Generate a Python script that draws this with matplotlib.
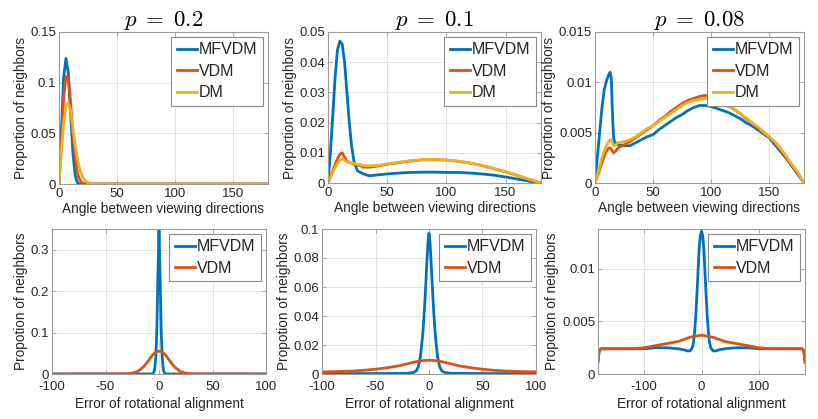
import matplotlib
matplotlib.use("Agg")
import matplotlib.pyplot as plt
import numpy as np

plt.rcParams['font.family'] = ['Liberation Sans', 'DejaVu Sans']
plt.rcParams['mathtext.fontset'] = 'cm'

C_MF = '#0072BD'
C_VDM = '#D95319'
C_DM = '#EDB120'

# ---------- top row: angle between viewing directions ----------
t1_x = [0, 2, 4, 6, 8, 10, 12, 14, 16, 18, 20, 22, 24, 26, 28, 30, 180]
t1_mf = [0, 0.05, 0.105, 0.124, 0.11, 0.07, 0.03, 0.008, 0.001, 0, 0, 0, 0, 0, 0, 0, 0]
t1_vdm = [0, 0.04, 0.085, 0.106, 0.105, 0.08, 0.05, 0.025, 0.01, 0.004, 0.001, 0, 0, 0, 0, 0, 0]
t1_dm = [0, 0.03, 0.06, 0.077, 0.08, 0.072, 0.055, 0.038, 0.024, 0.014, 0.008, 0.004, 0.002, 0.001, 0, 0, 0]

t2_x_mf = [0, 2, 4, 6, 8, 10, 12, 14, 16, 18, 20, 22, 25, 30, 35, 40, 45, 50, 60, 70, 80, 90,
           100, 110, 120, 130, 140, 150, 160, 170, 180]
t2_mf = [0, 0.01, 0.022, 0.035, 0.044, 0.047, 0.046, 0.04, 0.03, 0.02, 0.012, 0.007, 0.004, 0.003,
         0.0024, 0.0026, 0.0028, 0.003, 0.0033, 0.0035, 0.0036, 0.0036, 0.0035, 0.0035, 0.0033,
         0.003, 0.0026, 0.002, 0.0013, 0.0006, 0]
t2_x = [0, 2, 4, 6, 8, 10, 12, 14, 16, 20, 25, 30, 35, 40, 50, 60, 70, 80, 90, 100, 110, 120,
        130, 140, 150, 160, 170, 180]
t2_vdm = [0, 0.002, 0.004, 0.006, 0.008, 0.0095, 0.01, 0.0085, 0.0072, 0.0065, 0.006, 0.0053,
          0.0052, 0.0055, 0.0062, 0.0068, 0.0073, 0.0077, 0.0077, 0.0076, 0.0072, 0.0066, 0.0058,
          0.0048, 0.0037, 0.0025, 0.0012, 0]
t2_dm = [0, 0.0018, 0.0035, 0.005, 0.0065, 0.0075, 0.008, 0.0075, 0.007, 0.0066, 0.0062, 0.0058,
         0.0057, 0.0058, 0.0063, 0.0069, 0.0074, 0.0077, 0.0078, 0.0076, 0.0072, 0.0066, 0.0058,
         0.0048, 0.0037, 0.0025, 0.0012, 0]

t3_x_mf = [0, 2, 4, 6, 8, 10, 12, 13, 14, 15, 16, 17, 20, 25, 30, 35, 40, 45, 50, 55, 60, 65, 70,
           75, 80, 85, 90, 95, 100, 105, 110, 115, 120, 125, 130, 135, 140, 145, 150, 155, 160,
           165, 170, 175, 180]
t3_mf = [0, 0.0025, 0.005, 0.0075, 0.0093, 0.0102, 0.0108, 0.011, 0.0105, 0.007, 0.0045, 0.004,
         0.0038, 0.0037, 0.0037, 0.004, 0.0043, 0.0046, 0.0048, 0.0053, 0.0057, 0.0061, 0.0065,
         0.0068, 0.0072, 0.0075, 0.0077, 0.0077, 0.0076, 0.0074, 0.0072, 0.007, 0.0067, 0.0064,
         0.006, 0.0057, 0.0053, 0.0049, 0.0045, 0.0038, 0.0031, 0.0024, 0.0016, 0.0008, 0]
t3_x = [0, 3, 6, 9, 12, 14, 16, 18, 20, 25, 30, 35, 40, 45, 50, 55, 60, 65, 70, 75, 80, 85, 90,
        95, 100, 105, 110, 115, 120, 125, 130, 135, 140, 145, 150, 155, 160, 165, 170, 175, 180]
t3_vdm = [0, 0.001, 0.002, 0.003, 0.0035, 0.0034, 0.003, 0.0032, 0.0035, 0.0038, 0.0041, 0.0045,
          0.0049, 0.0053, 0.0057, 0.0062, 0.0066, 0.0071, 0.0075, 0.0079, 0.0082, 0.0084, 0.0086,
          0.0087, 0.0085, 0.0083, 0.008, 0.0077, 0.0073, 0.0069, 0.0064, 0.006, 0.0055, 0.005,
          0.0046, 0.004, 0.0033, 0.0025, 0.0017, 0.0009, 0]
t3_dm = [0, 0.0012, 0.0025, 0.0035, 0.0042, 0.0043, 0.0037, 0.0038, 0.004, 0.0041, 0.0043, 0.0046,
         0.005, 0.0054, 0.0057, 0.0061, 0.0065, 0.0069, 0.0073, 0.0077, 0.008, 0.0082, 0.0083,
         0.0084, 0.0083, 0.0082, 0.0079, 0.0076, 0.0073, 0.0069, 0.0065, 0.006, 0.0056, 0.0051,
         0.0046, 0.0041, 0.0034, 0.0026, 0.0018, 0.001, 0]

# ---------- bottom row: error of rotational alignment ----------
b1_x = [-100, -40, -30, -25, -20, -15, -12, -10, -8, -6, -5, -4, -3, -2, -1, 0,
        1, 2, 3, 4, 5, 6, 8, 10, 12, 15, 20, 25, 30, 40, 100]
b1_mf = [0, 0, 0, 0, 0, 0, 0, 0, 0, 0.0005, 0.003, 0.012, 0.04, 0.11, 0.24, 0.35,
         0.24, 0.11, 0.04, 0.012, 0.003, 0.0005, 0, 0, 0, 0, 0, 0, 0, 0, 0]
b1_x_vdm = [-100, -40, -30, -25, -20, -15, -12, -10, -8, -6, -4, -2, 0,
            2, 4, 6, 8, 10, 12, 15, 20, 25, 30, 40, 100]
b1_vdm = [0, 0.0001, 0.0006, 0.002, 0.006, 0.016, 0.025, 0.032, 0.039, 0.046, 0.051, 0.054, 0.055,
          0.054, 0.051, 0.046, 0.039, 0.032, 0.025, 0.016, 0.006, 0.002, 0.0006, 0.0001, 0]

b2_x_mf = [-100, -50, -20, -15, -12, -10, -8, -6, -5, -4, -3, -2, -1, 0,
           1, 2, 3, 4, 5, 6, 8, 10, 12, 15, 20, 50, 100]
b2_mf = [0.0003, 0.0003, 0.0005, 0.001, 0.002, 0.005, 0.012, 0.026, 0.036, 0.048, 0.062, 0.077,
         0.09, 0.097, 0.09, 0.077, 0.062, 0.048, 0.036, 0.026, 0.012, 0.005, 0.002, 0.001, 0.0005,
         0.0003, 0.0003]
b2_x_vdm = [-100, -90, -80, -70, -60, -50, -40, -30, -25, -20, -15, -10, -5, 0,
            5, 10, 15, 20, 25, 30, 40, 50, 60, 70, 80, 90, 100]
b2_vdm = [0.0015, 0.0016, 0.0018, 0.0021, 0.0026, 0.0033, 0.0042, 0.0054, 0.0062, 0.0071, 0.008,
          0.0088, 0.0093, 0.0095, 0.0093, 0.0088, 0.008, 0.0071, 0.0062, 0.0054, 0.0042, 0.0033,
          0.0026, 0.0021, 0.0018, 0.0016, 0.0015]

b3_x_mf = [-180, -178, -175, -140, -100, -80, -60, -40, -30, -25, -20, -16, -14, -12, -10, -8, -6,
           -4, -2, 0, 2, 4, 6, 8, 10, 12, 14, 16, 20, 25, 30, 40, 60, 80, 100, 140, 175, 178, 180]
b3_mf = [0.0012, 0.0022, 0.0024, 0.0024, 0.0024, 0.0025, 0.0025, 0.0024, 0.0023, 0.0022, 0.0022,
         0.0025, 0.003, 0.004, 0.0055, 0.0075, 0.0098, 0.012, 0.0132, 0.0136, 0.0132, 0.012, 0.0098,
         0.0075, 0.0055, 0.004, 0.003, 0.0025, 0.0022, 0.0022, 0.0023, 0.0024, 0.0025, 0.0025,
         0.0024, 0.0024, 0.0024, 0.0022, 0.0012]
b3_x_vdm = [-180, -178, -175, -150, -120, -100, -80, -60, -50, -40, -30, -20, -10, 0,
            10, 20, 30, 40, 50, 60, 80, 100, 120, 150, 175, 178, 180]
b3_vdm = [0.0011, 0.0022, 0.0024, 0.0024, 0.0024, 0.0025, 0.0027, 0.0029, 0.003, 0.0031, 0.0033,
          0.0035, 0.0036, 0.0037, 0.0036, 0.0035, 0.0033, 0.0031, 0.003, 0.0029, 0.0027, 0.0025,
          0.0024, 0.0024, 0.0024, 0.0022, 0.0011]

titles = [r'$p\;=\;0.2$', r'$p\;=\;0.1$', r'$p\;=\;0.08$']

W, H = 818, 419
fig = plt.figure(figsize=(W / 100, H / 100), dpi=100)


def make_ax(l, r, t, b):
    return fig.add_axes([l / W, 1 - b / H, (r - l) / W, (b - t) / H])


TXT = '#262626'
SP = '#9a9a9a'


def style(ax, xpad):
    for s in ax.spines.values():
        s.set_color(SP)
        s.set_linewidth(0.8)
    ax.tick_params(direction='in', length=3, width=0.6, color=SP, labelcolor=TXT,
                   labelsize=9.5, top=True, right=True)
    ax.tick_params(axis='y', pad=2)
    ax.tick_params(axis='x', pad=xpad)
    ax.grid(True, color='#e3e3e3', linewidth=0.7)
    ax.set_axisbelow(True)


def add_legend(ax):
    leg = ax.legend(loc='upper right', fontsize=11.5, frameon=True, fancybox=False,
                    borderaxespad=0.3, handlelength=1.25, handletextpad=0.15,
                    labelspacing=0.4, borderpad=0.35, framealpha=1)
    leg.get_frame().set_edgecolor('#8a8a8a')
    leg.get_frame().set_linewidth(0.8)
    for t in leg.get_texts():
        t.set_color(TXT)


LW = 2.0
axes_top = [make_ax(59, 268, 32, 184), make_ax(328, 541, 32, 183), make_ax(595, 804, 32, 183)]
axes_bot = [make_ax(52, 266, 229, 374), make_ax(322, 536, 229, 374), make_ax(598, 805, 229, 374)]

top_data = [
    (t1_x, t1_mf, t1_x, t1_vdm, t1_x, t1_dm, 0.15, [0, 0.05, 0.1, 0.15], ['0', '0.05', '0.1', '0.15']),
    (t2_x_mf, t2_mf, t2_x, t2_vdm, t2_x, t2_dm, 0.05, [0, 0.01, 0.02, 0.03, 0.04, 0.05],
     ['0', '0.01', '0.02', '0.03', '0.04', '0.05']),
    (t3_x_mf, t3_mf, t3_x, t3_vdm, t3_x, t3_dm, 0.015, [0, 0.005, 0.01, 0.015],
     ['0', '0.005', '0.01', '0.015']),
]

for i, ax in enumerate(axes_top):
    xm, ym, xv, yv, xd, yd, ytop, yt, ytl = top_data[i]
    style(ax, 3)
    ax.plot(xm, ym, color=C_MF, lw=LW, label='MFVDM')
    ax.plot(xv, yv, color=C_VDM, lw=LW, label='VDM')
    ax.plot(xd, yd, color=C_DM, lw=LW, label='DM')
    ax.set_xlim(0, 180)
    ax.set_ylim(0, ytop)
    ax.set_xticks([0, 50, 100, 150])
    ax.set_xticklabels(['0', '50', '100', '150'])
    ax.set_yticks(yt)
    ax.set_yticklabels(ytl)
    ax.set_xlabel('Angle between viewing directions', fontsize=9.8, color=TXT, labelpad=1)
    ax.set_ylabel('Proportion of neighbors', fontsize=9.8, color=TXT, labelpad=2)
    ax.set_title(titles[i], fontsize=16.5, color='black', pad=4)
    add_legend(ax)

bot_data = [
    (b1_x, b1_mf, b1_x_vdm, b1_vdm, (-100, 100), [-100, -50, 0, 50, 100], 0.35,
     [0, 0.1, 0.2, 0.3], ['0', '0.1', '0.2', '0.3']),
    (b2_x_mf, b2_mf, b2_x_vdm, b2_vdm, (-100, 100), [-100, -50, 0, 50, 100], 0.1,
     [0, 0.02, 0.04, 0.06, 0.08, 0.1], ['0', '0.02', '0.04', '0.06', '0.08', '0.1']),
    (b3_x_mf, b3_mf, b3_x_vdm, b3_vdm, (-180, 180), [-100, 0, 100], 0.0138,
     [0, 0.005, 0.01], ['0', '0.005', '0.01']),
]

for i, ax in enumerate(axes_bot):
    xm, ym, xv, yv, xl, xt, ytop, yt, ytl = bot_data[i]
    style(ax, 5)
    ax.plot(xm, ym, color=C_MF, lw=LW, label='MFVDM')
    ax.plot(xv, yv, color=C_VDM, lw=LW, label='VDM')
    ax.set_xlim(*xl)
    ax.set_ylim(0, ytop)
    ax.set_xticks(xt)
    ax.set_xticklabels([str(v) for v in xt])
    ax.set_yticks(yt)
    ax.set_yticklabels(ytl)
    ax.set_xlabel('Error of rotational alignment', fontsize=9.8, color=TXT, labelpad=3)
    ax.set_ylabel('Propotion of neighbors', fontsize=9.8, color=TXT, labelpad=2)
    add_legend(ax)

fig.savefig('out.png', dpi=100, facecolor='white')
